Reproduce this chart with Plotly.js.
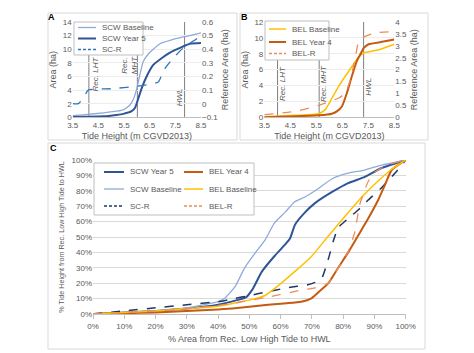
<!DOCTYPE html>
<html><head><meta charset="utf-8">
<script src="https://cdn.plot.ly/plotly-3.0.1.min.js"></script>
<style>html,body{margin:0;padding:0;background:#fff}#chart{width:474px;height:353px}</style>
</head><body><div id="chart"></div>
<script>
// ---------- Panel A data (Tide height m vs area ha) ----------
var scwBaseX = [3.5, 4.0, 4.7, 5.2, 5.47, 5.73, 5.86, 5.99, 6.12, 6.25, 6.45, 6.64, 6.9, 7.29, 7.81, 8.2, 8.5];
var scwBaseY = [0.25, 0.4, 0.65, 0.9, 1.1, 1.8, 2.6, 4.1, 6.3, 8.2, 9.3, 10.0, 10.8, 11.3, 11.8, 12.1, 12.4];
var scwY5X = [3.5, 4.0, 4.7, 5.2, 5.47, 5.8, 5.93, 6.06, 6.19, 6.38, 6.64, 6.9, 7.29, 7.68, 8.07, 8.5];
var scwY5Y = [0.05, 0.08, 0.15, 0.35, 0.5, 0.9, 1.4, 2.8, 4.3, 6.0, 7.7, 8.5, 9.5, 10.2, 10.8, 10.9];
var scrX = [3.5, 3.72, 3.92, 4.11, 5.0, 6.0, 6.6, 6.84, 6.95, 7.1, 7.42, 7.81, 8.2, 8.5];
var scrY = [0, 0, 0.045, 0.1, 0.11, 0.128, 0.145, 0.16, 0.2, 0.26, 0.335, 0.41, 0.46, 0.5];
var refLinesA = [4.13, 6.02, 7.86];
// ---------- Panel B data ----------
var belBaseX = [3.5, 4.69, 5.59, 5.85, 6.1, 6.36, 6.62, 6.87, 7.13, 7.32, 7.9, 8.5];
var belBaseY = [0.08, 0.25, 0.45, 1.0, 2.4, 3.9, 5.2, 6.4, 7.6, 8.1, 8.5, 9.2];
var belY4X = [3.5, 4.5, 5.59, 6.1, 6.29, 6.49, 6.68, 6.87, 7.06, 7.19, 7.32, 7.51, 8.03, 8.5];
var belY4Y = [0, 0.1, 0.25, 0.45, 0.75, 1.4, 3.1, 5.2, 7.1, 7.9, 8.7, 9.2, 9.5, 9.8];
var belRX = [3.5, 4.69, 5.59, 6.36, 6.62, 6.81, 7.0, 7.13, 7.32, 7.76, 8.5];
var belRY = [0.11, 0.25, 0.5, 0.81, 1.02, 1.58, 2.5, 3.19, 3.36, 3.54, 3.6];
var refLinesB = [4.01, 5.61, 7.32];
// ---------- Panel C data (% area vs % tide height) ----------
var scwY5CX = [0, 10, 20, 30, 40, 46, 49, 51, 54, 58.2, 61.4, 63, 64.6, 67.8, 71, 76.6, 81.6, 86.9, 92.3, 100];
var scwY5CY = [0, 1, 2, 3.5, 6, 9, 11, 16, 27.5, 38, 45, 49, 58, 66, 72, 79.4, 85, 89, 94.8, 100];
var scwBaseCX = [0, 10, 20, 30, 40, 42, 45.5, 48.5, 52, 55, 58, 61.4, 64.6, 67.8, 71, 76.6, 81.6, 86.9, 92.3, 100];
var scwBaseCY = [0, 1, 2, 4, 8, 10, 18, 30, 40, 48, 59, 66, 73, 76, 80, 88, 91.5, 93.5, 96.7, 100];
var scrCX = [0, 10, 20, 30, 40, 45, 50, 56, 62, 68.7, 71, 73.1, 75.3, 76.8, 78.4, 81.6, 84.8, 88, 92.3, 96.6, 100];
var scrCY = [0, 2, 4, 6, 8, 10, 12, 14.5, 17, 19, 20.5, 23, 36, 47, 56, 62, 67.5, 74, 82, 91.5, 100];
var belY4CX = [0, 10, 20, 30, 40, 45.4, 56, 62, 66.6, 69.7, 72, 75.3, 78.4, 81.6, 84.8, 88, 91.2, 93.4, 95.5, 100];
var belY4CY = [0, 0.5, 1, 2, 3, 3.7, 6, 7, 8, 10, 14, 20, 30, 40, 51, 62, 74, 84, 93.5, 100];
var belBaseCX = [0, 10, 20, 30, 40, 45, 50, 55, 59, 64.5, 69.7, 75, 80.4, 86, 91, 95.5, 100];
var belBaseCY = [0, 1, 2, 3.5, 5, 7, 9, 12, 18, 27.5, 37, 50, 63, 76, 86, 94, 100];
var belRCX = [0, 10, 20, 30, 40, 45, 56, 66.6, 71, 75.3, 78.4, 81.6, 83.7, 85.3, 88, 90.1, 94.4, 100];
var belRCY = [0, 1, 2, 3.5, 5.5, 7, 11, 15.5, 17, 20, 30, 40.5, 53, 71, 86, 92, 97, 100];

var F = "Liberation Sans, Arial, sans-serif";
var TC = "#595959";
var W = 474, H = 353;
function px(x){return x/W;} function py(y){return 1-y/H;}
function ln(c,w,d){return {color:c,width:w,dash:d||'solid',shape:'spline',smoothing:0.5};}

var cLB='#8FAADC', cDB='#2F5597', cSR='#2E75B6', cY='#FFC000', cBr='#C55A11', cOr='#EE8C55', cSRc='#1F3864';

var traces = [
 {x:scwBaseX,y:scwBaseY,name:'SCW Baseline',line:ln(cLB,1.3),xaxis:'x',yaxis:'y'},
 {x:scwY5X,y:scwY5Y,name:'SCW Year 5',line:ln(cDB,2),xaxis:'x',yaxis:'y'},
 {x:scrX,y:scrY,name:'SC-R',line:ln(cSR,1.3,'dash'),xaxis:'x',yaxis:'y2'},
 {x:belBaseX,y:belBaseY,name:'BEL Baseline',line:ln(cY,1.5),xaxis:'x2',yaxis:'y3'},
 {x:belY4X,y:belY4Y,name:'BEL Year 4',line:ln(cBr,2),xaxis:'x2',yaxis:'y3'},
 {x:belRX,y:belRY,name:'BEL-R',line:ln(cOr,1.3,'dash'),xaxis:'x2',yaxis:'y4'},
 {x:scwY5CX,y:scwY5CY,name:'SCW Year 5',line:ln(cDB,2),xaxis:'x3',yaxis:'y5'},
 {x:scwBaseCX,y:scwBaseCY,name:'SCW Baseline',line:ln(cLB,1.3),xaxis:'x3',yaxis:'y5'},
 {x:scrCX,y:scrCY,name:'SC-R',line:ln(cSRc,1.5,'dash'),xaxis:'x3',yaxis:'y5'},
 {x:belY4CX,y:belY4CY,name:'BEL Year 4',line:ln(cBr,2),xaxis:'x3',yaxis:'y5'},
 {x:belBaseCX,y:belBaseCY,name:'BEL Baseline',line:ln(cY,1.5),xaxis:'x3',yaxis:'y5'},
 {x:belRCX,y:belRCY,name:'BEL-R',line:ln(cOr,1.3,'dash'),xaxis:'x3',yaxis:'y5'}
];
traces.forEach(function(t){t.mode='lines';t.showlegend=false;t.hoverinfo='skip';});

var tf = {family:F,size:8,color:TC};
var ttf = {family:F,size:9,color:TC};
function xax(dom,anchor,extra){return Object.assign({domain:dom,anchor:anchor,tickfont:tf,showgrid:false,zeroline:false,showline:true,linecolor:'#bfbfbf',linewidth:1,ticks:'',fixedrange:true},extra);}
function yax(dom,anchor,extra){return Object.assign({domain:dom,anchor:anchor,tickfont:tf,showgrid:true,gridcolor:'#ececec',gridwidth:1,zeroline:false,showline:false,ticks:'',fixedrange:true},extra);}

var domYAB=[py(117.3),py(22)];
var layout = {
 width:W,height:H,margin:{l:0,r:0,t:0,b:0},paper_bgcolor:'#fff',plot_bgcolor:'rgba(0,0,0,0)',
 font:{family:F,size:8,color:TC},showlegend:false,
 xaxis:xax([px(72.7),px(201)],'y',{range:[3.5,8.5],tick0:3.5,dtick:1,title:{text:'Tide Height (m CGVD2013)',font:ttf,standoff:3}}),
 yaxis:yax(domYAB,'x',{range:[0,14],dtick:2,title:{text:'Area (ha)',font:ttf,standoff:4}}),
 yaxis2:yax(domYAB,'x',{overlaying:'y',side:'right',range:[-0.1,0.6],dtick:0.1,showgrid:false,title:{text:'Reference Area (ha)',font:ttf,standoff:4}}),
 xaxis2:xax([px(264.3),px(394.3)],'y3',{range:[3.5,8.5],tick0:3.5,dtick:1,title:{text:'Tide Height (m CGVD2013)',font:ttf,standoff:3}}),
 yaxis3:yax(domYAB,'x2',{range:[0,12],dtick:2,title:{text:'Area (ha)',font:ttf,standoff:4}}),
 yaxis4:yax(domYAB,'x2',{overlaying:'y3',side:'right',range:[0,4],dtick:0.5,showgrid:false,title:{text:'Reference Area (ha)',font:ttf,standoff:4}}),
 xaxis3:xax([px(93),px(405.7)],'y5',{range:[0,100],dtick:10,ticksuffix:'%',ticks:'outside',ticklen:4,tickcolor:'#bfbfbf',title:{text:'% Area from Rec. Low High Tide to HWL',font:ttf,standoff:6}}),
 yaxis5:yax([py(314),py(160)],'x3',{range:[0,100],dtick:10,ticksuffix:'%',gridcolor:'#d9d9d9',title:{text:'% Tide Height from Rec. Low High Tide to HWL',font:{family:F,size:7.2,color:TC},standoff:6}}),
 shapes:[],
 annotations:[]
};
// panel frames
[[48,13,237,140],[240,13,428,140],[48,143,425,349]].forEach(function(r){
 layout.shapes.push({type:'rect',xref:'paper',yref:'paper',x0:px(r[0]),x1:px(r[2]),y0:py(r[3]),y1:py(r[1]),line:{color:'#d9d9d9',width:1},layer:'below'});
});
// reference vertical lines
refLinesA.forEach(function(v){layout.shapes.push({type:'line',xref:'x',yref:'y domain',x0:v,x1:v,y0:0,y1:1,line:{color:'#7f7f7f',width:1},layer:'below'});});
refLinesB.forEach(function(v){layout.shapes.push({type:'line',xref:'x2',yref:'y3 domain',x0:v,x1:v,y0:0,y1:1,line:{color:'#7f7f7f',width:1},layer:'below'});});
function lab(t,x,y,xr,yr){layout.annotations.push({text:t,x:x,y:y,xref:xr,yref:yr,textangle:-90,showarrow:false,font:{family:F,size:8,color:TC}});}
lab('<i>Rec. LHT</i>',4.37,6.3,'x','y');
lab('<i>Rec.<br>MHT</i>',5.72,7.6,'x','y');
lab('<i>HWL</i>',7.66,3.0,'x','y');
lab('<i>Rec. LHT</i>',4.22,4.2,'x2','y3');
lab('<i>Rec. MHT</i>',5.8,4.2,'x2','y3');
lab('<i>HWL</i>',7.5,3.9,'x2','y3');
// legends (boxes drawn on top of plot lines, entries taken from the traces)
function legendBox(box, entries){
 layout.shapes.push({type:'rect',xref:'paper',yref:'paper',x0:px(box[0]),x1:px(box[2]),y0:py(box[3]),y1:py(box[1]),line:{color:'#bfbfbf',width:1},fillcolor:'#fff',layer:'above'});
 entries.forEach(function(e){
  var t=traces[e[0]];
  layout.shapes.push({type:'line',xref:'paper',yref:'paper',x0:px(e[1]),x1:px(e[2]),y0:py(e[3]),y1:py(e[3]),line:{color:t.line.color,width:t.line.width,dash:t.line.dash==='dash'?'3px,2px':'solid'},layer:'above'});
  layout.annotations.push({text:t.name,xref:'paper',yref:'paper',x:px(e[2]+4),y:py(e[3]),xanchor:'left',yanchor:'middle',showarrow:false,font:{family:F,size:8,color:TC}});
 });
}
legendBox([74,22,143,55],[[0,78,96,27.5],[1,78,96,38.5],[2,78,96,49.5]]);
legendBox([265,21,329,60],[[3,269,286,29],[4,269,286,42],[5,269,286,53.5]]);
legendBox([94,163,254,215],[[6,104,124,172],[7,104,124,189],[8,104,124,206],[9,184,203,172],[10,184,203,189],[11,184,203,206]]);
// panel letters
[['A',51,17],['B',244,17],['C',53,148]].forEach(function(a){
 layout.annotations.push({text:'<b>'+a[0]+'</b>',xref:'paper',yref:'paper',x:px(a[1]),y:py(a[2]),xanchor:'center',yanchor:'middle',showarrow:false,font:{family:F,size:9,color:'#000'}});
});
Plotly.newPlot('chart',traces,layout,{staticPlot:true});
</script></body></html>
